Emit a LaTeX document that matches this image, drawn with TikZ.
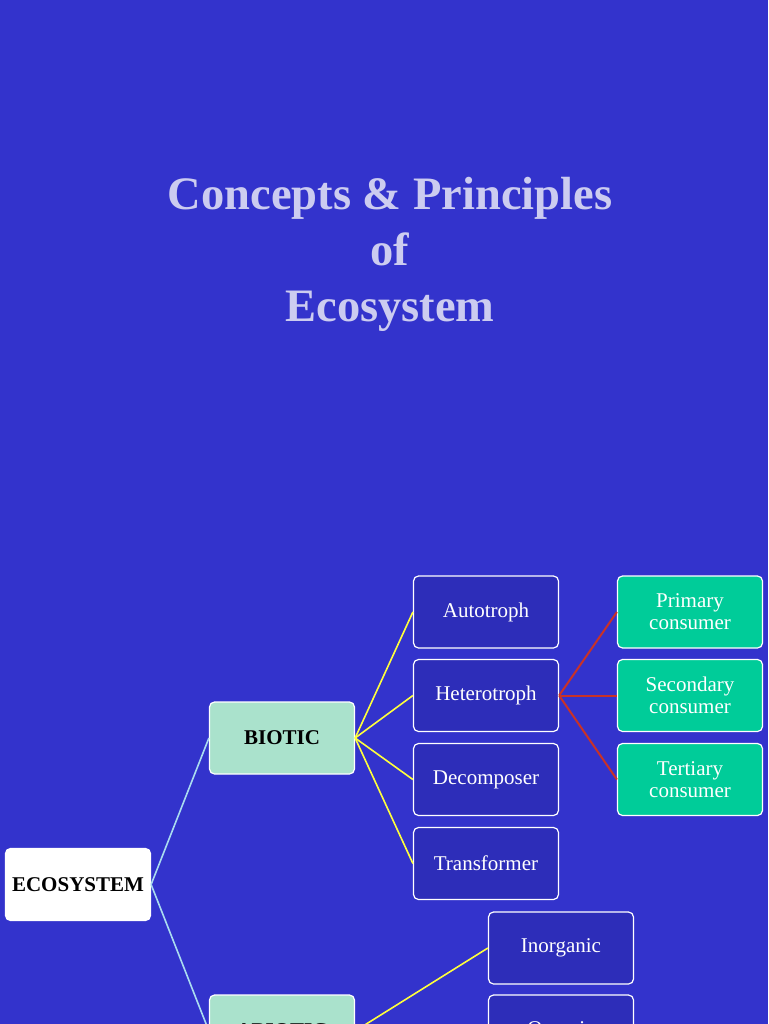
\documentclass[tikz,border=0pt]{standalone}
\usepackage{fontspec}
\setmainfont{Liberation Serif}
\definecolor{bg}{RGB}{51,51,204}
\definecolor{darkbox}{RGB}{45,45,185}
\definecolor{paleg}{RGB}{170,226,204}
\definecolor{consg}{RGB}{0,204,153}
\definecolor{titlec}{RGB}{204,204,240}
\definecolor{ecoline}{RGB}{170,220,240}
\definecolor{yline}{RGB}{255,255,60}
\definecolor{rline}{RGB}{200,50,40}
\begin{document}
\begin{tikzpicture}[x=1pt,y=-1pt,
  boxbase/.style={rectangle, rounded corners=5pt, minimum width=145pt, minimum height=72pt,
    draw=white, line width=1.2pt, align=center, inner sep=2pt},
  darkb/.style={boxbase, fill=darkbox, text=white, font=\fontsize{21}{22}\selectfont},
  paleb/.style={boxbase, fill=paleg, text=black, font=\fontsize{21}{22}\selectfont\bfseries},
  whiteb/.style={boxbase, fill=white, text=black, font=\fontsize{21}{22}\selectfont\bfseries},
  consb/.style={boxbase, fill=consg, text=white, font=\fontsize{21}{22}\selectfont},
  eline/.style={draw=ecoline, line width=1.6pt},
  yl/.style={draw=yline, line width=1.6pt},
  rl/.style={draw=rline, line width=2pt}]
\useasboundingbox (0,0) rectangle (768,1024);
\fill[bg] (0,0) rectangle (768,1024);
\clip (0,0) rectangle (768,1024);
\node[text=titlec, font=\fontsize{46.5}{56}\selectfont\bfseries, align=center] (title) at (390,254)
  {Concepts \& Principles\\of\\Ecosystem};
\node[whiteb] (eco) at (78,884.5) {ECOSYSTEM};
\node[paleb] (bio) at (282,738) {BIOTIC};
\node[paleb] (abio) at (282,1031) {ABIOTIC};
\node[darkb] (auto) at (486,612) {Autotroph};
\node[darkb] (hetero) at (486,695.5) {Heterotroph};
\node[darkb] (decomp) at (486,779.5) {Decomposer};
\node[darkb] (trans) at (486,863.5) {Transformer};
\node[darkb] (inorg) at (561,948) {Inorganic};
\node[darkb] (org) at (561,1031) {Organic};
\node[consb] (prim) at (690,612) {Primary\\consumer};
\node[consb] (sec) at (690,695.5) {Secondary\\consumer};
\node[consb] (tert) at (690,779.5) {Tertiary\\consumer};
\draw[eline] (eco.east) -- (bio.west);
\draw[eline] (eco.east) -- (abio.west);
\draw[yl] (bio.east) -- (auto.west);
\draw[yl] (bio.east) -- (hetero.west);
\draw[yl] (bio.east) -- (decomp.west);
\draw[yl] (bio.east) -- (trans.west);
\draw[yl] (abio.east) -- (inorg.west);
\draw[yl] (abio.east) -- (org.west);
\draw[rl] (hetero.east) -- (prim.west);
\draw[rl] (hetero.east) -- (sec.west);
\draw[rl] (hetero.east) -- (tert.west);
\end{tikzpicture}
\end{document}
